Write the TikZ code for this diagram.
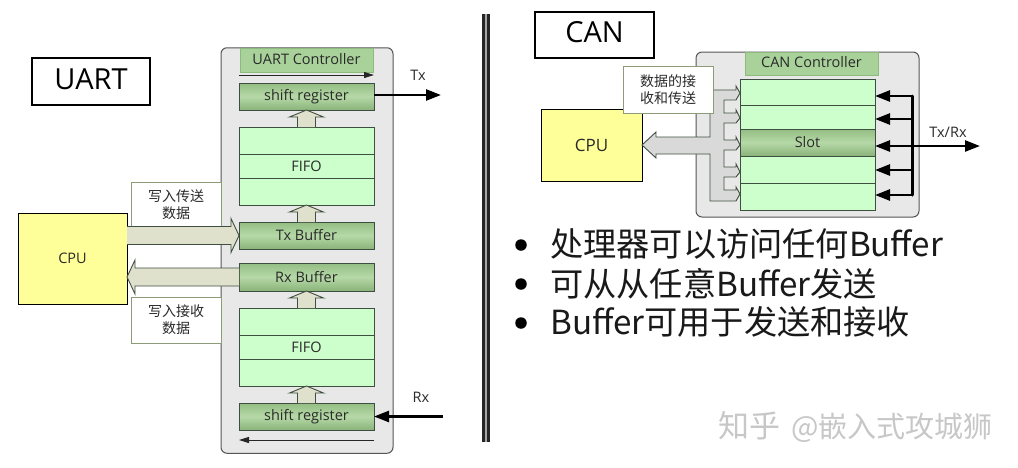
\documentclass[tikz,border=0pt]{standalone}
\usepackage{fontspec}
\setmainfont{Open Sans}
\newfontfamily\cjk{Noto Sans CJK SC}
\usetikzlibrary{arrows.meta, calc}
\definecolor{cpuY}{HTML}{FFFF99}
\definecolor{cellG}{HTML}{CCFFCC}
\definecolor{headG}{HTML}{A9D29A}
\definecolor{headB}{HTML}{8DBB7E}
\definecolor{regT}{HTML}{93BD83}
\definecolor{regM}{HTML}{B6D9A7}
\definecolor{regB}{HTML}{8AB37A}
\definecolor{edgeD}{HTML}{3F4F3F}
\definecolor{ctlBg}{HTML}{E8E8E8}
\definecolor{ctlE}{HTML}{555555}
\definecolor{blkF}{HTML}{DFE1CC}
\definecolor{busF}{HTML}{D9D9D9}
\definecolor{noteE}{HTML}{8C9C78}
\definecolor{txtD}{HTML}{2A2A2A}
\newcommand{\fsz}[1]{\fontsize{#1}{#1}\selectfont}
% block arrow: tail, head, half width, half head width, head length
\newcommand{\blkarrow}[5]{%
  \coordinate (hb) at ($(#2)!#5!(#1)$);
  \draw[blk] ($(#1)!#3!90:(#2)$) -- ($(hb)!#3!90:(#2)$) -- ($(hb)!#4!90:(#2)$) -- (#2)
    -- ($(hb)!#4!-90:(#2)$) -- ($(hb)!#3!-90:(#2)$) -- ($(#1)!#3!-90:(#2)$);
}
\tikzset{
  box/.style={rectangle, inner sep=0pt, outer sep=0pt, align=center, text=txtD, font=\fsz{14.5}},
  title/.style={box, draw=black, line width=2pt, fill=white, text=black, font=\fsz{29}, text height=21pt, text depth=6pt},
  ctl/.style={box, draw=ctlE, line width=1pt, fill=ctlBg, rounded corners=6pt},
  head/.style={box, draw=headB, line width=.8pt, fill=headG, text height=11pt},
  reg/.style={box, draw=edgeD, line width=1pt, top color=regT, bottom color=regB, middle color=regM, minimum width=135pt},
  cell/.style={box, draw=edgeD, line width=1pt, fill=cellG},
  cpu/.style={box, draw=black, line width=.9pt, fill=cpuY},
  note/.style={box, draw=noteE, line width=.7pt, fill=white, font=\cjk\fsz{14}},
  blk/.style={draw=edgeD, line width=.9pt, fill=blkF},
  thin/.style={-{Triangle[length=10pt,width=6pt]}, line width=1pt, draw=black!85},
  bold/.style={-{Triangle[length=15pt,width=11pt]}, line width=2.5pt, draw=black},
  lab/.style={inner sep=0pt, text=txtD, font=\fsz{14.5}},
  item/.style={inner sep=0pt, anchor=base west, text=black!90, font=\cjk\fsz{33.2}},
  dot/.style={circle, fill=black, inner sep=0pt, minimum size=11.5pt}
}
\begin{document}
\begin{tikzpicture}[x=1pt, y=-1pt]
\useasboundingbox (0,0) rectangle (1018,467);

% UART side
\node (uart) [title, minimum width=118pt, minimum height=47pt] at (91,81.5) {UART};
\node (uctl) [ctl, minimum width=172pt, minimum height=405.5pt] at (307,250.5) {};
\node (uhead) [head, text depth=2pt, minimum width=133pt, minimum height=24pt] at (306.5,60) {UART Controller};
\node (sr1) [reg, minimum height=27pt] at (306.5,96.5) {shift register};
\node (f1a) [cell, minimum width=135pt, minimum height=27pt] at (306.5,140.5) {};
\node (f1b) [cell, minimum width=135pt, minimum height=24pt] at (306.5,166) {FIFO};
\node (f1c) [cell, minimum width=135pt, minimum height=27pt] at (306.5,191.5) {};
\node (txb) [reg, minimum height=27pt] at (306.5,235.5) {Tx Buffer};
\node (rxb) [reg, minimum height=28pt] at (306.5,277) {Rx Buffer};
\node (f2a) [cell, minimum width=135pt, minimum height=27pt] at (306.5,321.5) {};
\node (f2b) [cell, minimum width=135pt, minimum height=24pt] at (306.5,347) {FIFO};
\node (f2c) [cell, minimum width=135pt, minimum height=27pt] at (306.5,372.5) {};
\node (sr2) [reg, minimum height=27pt] at (306.5,416.5) {shift register};
\node (ucpu) [cpu, minimum width=109pt, minimum height=91pt] at (72.5,258.5) {CPU};
\node (n1) [note, minimum width=90pt, minimum height=46pt] at (176,205) {写入传送\\[3pt]数据};
\node (n2) [note, minimum width=90pt, minimum height=46pt] at (176,320) {写入接收\\[3pt]数据};

\blkarrow{f1a.north}{sr1.south}{9pt}{17pt}{7pt}
\blkarrow{txb.north}{f1c.south}{9pt}{17pt}{7pt}
\blkarrow{f2a.north}{rxb.south}{9pt}{17pt}{7pt}
\blkarrow{sr2.north}{f2c.south}{9pt}{17pt}{7pt}
\coordinate (cpuT) at (ucpu.east |- txb.west);
\coordinate (cpuR) at (ucpu.east |- rxb.west);
\blkarrow{cpuT}{txb.west}{9pt}{17pt}{8pt}
\blkarrow{rxb.west}{cpuR}{9pt}{17pt}{8pt}

\coordinate (t1) at ($(sr1.north west)+(0,-8)$);
\coordinate (t2) at ($(sr1.north east)+(0,-8)$);
\draw[thin] (t1) -- (t2);
\coordinate (b1) at ($(sr2.south east)+(0,10)$);
\coordinate (b2) at ($(sr2.south west)+(0,10)$);
\draw[thin] (b1) -- (b2);
\coordinate (txend) at (441,95);
\draw[bold] (txend -| sr1.east) -- (txend);
\coordinate (rxend) at (443,416.5);
\draw[bold] (rxend) -- (sr2.east);
\node (txl) [lab] at (418,75) {Tx};
\node (rxl) [lab] at (421,397) {Rx};

% divider
\draw[line width=7.6pt, black!85] (486,14) -- (486,442);
\draw[line width=2.8pt, black!35] (486,14) -- (486,442);

% CAN side
\node (can) [title, minimum width=119pt, minimum height=46pt] at (594.5,35) {CAN};
\node (cctl) [ctl, minimum width=223pt, minimum height=165pt] at (807.5,134.5) {};
\node (chead) [head, text depth=4pt, minimum width=133pt, minimum height=23pt] at (811.5,63.5) {CAN Controller};
\node (s1) [cell, minimum width=135pt, minimum height=26pt] at (807.5,92) {};
\node (s2) [cell, minimum width=135pt, minimum height=24pt] at (807.5,117) {};
\node (s3) [reg, minimum height=27pt] at (807.5,142.5) {Slot};
\node (s4) [cell, minimum width=135pt, minimum height=27pt] at (807.5,169.5) {};
\node (s5) [cell, minimum width=135pt, minimum height=27pt] at (807.5,196.5) {};
\node (ccpu) [cpu, minimum width=101pt, minimum height=72pt, font=\fsz{17}] at (591.5,145) {CPU};

% comb towards the slots
\draw[draw=edgeD, line width=.9pt, fill=busF] (ccpu.east) -- (656,132) -- (656,137) -- (710,137) -- (710,90)
  -- (736,90) -- (736,86) -- (740,93) -- (736,100) -- (724,100) -- (724,113) -- (736,113)
  -- (736,110) -- (740,118) -- (736,123) -- (724,123) -- (724,140) -- (736,140)
  -- (736,137) -- (740,145) -- (736,150) -- (724,150) -- (724,167) -- (736,167)
  -- (736,164) -- (740,172) -- (736,177) -- (724,177) -- (724,190) -- (736,190)
  -- (736,187) -- (740,194) -- (736,201) -- (710,201) -- (710,154) -- (656,154) -- (656,158) -- cycle;
\node (n3) [note, minimum width=90pt, minimum height=47pt] at (668,89.5) {数据的接\\[3pt]收和传送};

\coordinate (bus1) at (912,96);
\coordinate (bus2) at (912,119);
\coordinate (bus3) at (912,146);
\coordinate (bus4) at (912,170);
\coordinate (bus5) at (912,195);
\coordinate (txrx) at (980,146);
\draw[line width=3pt, line cap=round] (bus1) -- (bus5);
\draw[bold] (bus1) -- (bus1 -| s1.east);
\draw[bold] (bus2) -- (bus2 -| s2.east);
\draw[bold] (bus4) -- (bus4 -| s4.east);
\draw[bold] (bus5) -- (bus5 -| s5.east);
\draw[bold, {Triangle[length=15pt,width=11pt]}-{Triangle[length=15pt,width=11pt]}] (txrx -| s3.east) -- (txrx);
\node (trl) [lab] at (948,132) {Tx/Rx};

% bullets
\node (d1) [dot] at (521,245) {};
\node (d2) [dot] at (521,284) {};
\node (d3) [dot] at (521,323) {};
\node (i1) [item] at (550,256) {处理器可以访问任何Buffer};
\node (i2) [item] at (550,296) {可从从任意Buffer发送};
\node (i3) [item] at (550,334) {Buffer可用于发送和接收};

% watermark
\node (wm) [inner sep=0pt, anchor=base west, text=black!22, font=\cjk\fsz{29}] at (718,437) {{\fsz{31}知乎}\hspace{11pt}@嵌入式攻城狮};
\end{tikzpicture}
\end{document}
